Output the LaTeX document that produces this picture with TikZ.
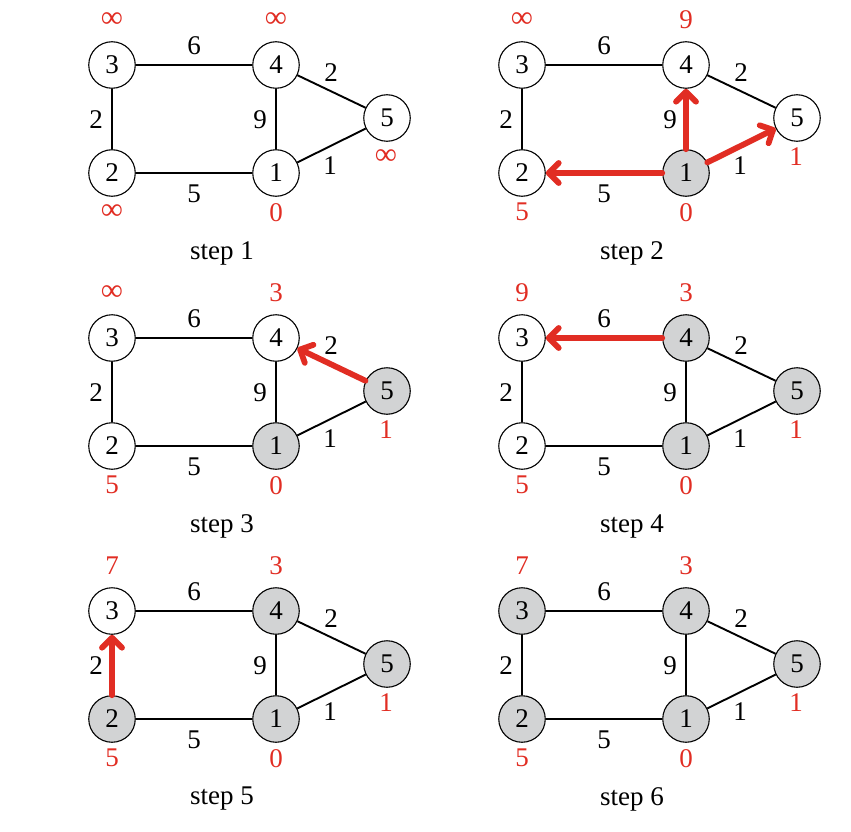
\documentclass[tikz,border=0pt]{standalone}
\usepackage{fontspec}
\setmainfont{Liberation Serif}
\usetikzlibrary{arrows.meta}
\definecolor{rd}{RGB}{225,45,35}
\definecolor{ng}{RGB}{210,211,212}
\newcommand\inft{{\fontsize{31}{31}\selectfont ∞}}
\tikzset{
  vtx/.style={circle, draw=black, line width=1.1pt, minimum size=46.5pt, inner sep=0pt, fill=white, font=\fontsize{27}{27}\selectfont},
  vtxg/.style={vtx, fill=ng},
  f1/.style={vtx}, f2/.style={vtx}, f3/.style={vtx}, f4/.style={vtx}, f5/.style={vtx},
  edge/.style={line width=1.9pt},
  redarr/.style={draw=rd, line width=5.8pt, line cap=round, -{Straight Barb[round,length=10pt,width=20pt]}},
  wlab/.style={font=\fontsize{27}{27}\selectfont, inner sep=0pt},
  dlab/.style={wlab, text=rd},
}
\newcommand\drawpanel[9]{%
  \node[f3] (n3) at (112,65) {3};
  \node[f4] (n4) at (276,65) {4};
  \node[f5] (n5) at (387,118) {5};
  \node[f2] (n2) at (112,173) {2};
  \node[f1] (n1) at (276,173) {1};
  \foreach \a/\b in {#8} {\draw[edge] (n\a) -- (n\b);}
  \foreach \a/\b in {#9} {\draw[redarr] (n\a) -- (n\b);}
  \node[wlab] (w34) at (194,46) {6};
  \node[wlab] (w32) at (96,120) {2};
  \node[wlab] (w41) at (260,120) {9};
  \node[wlab] (w45) at (331,73) {2};
  \node[wlab] (w15) at (330,166) {1};
  \node[wlab] (w21) at (194,194) {5};
  \node[dlab] (d3) at (112,20) {#2};
  \node[dlab] (d4) at (276,20) {#3};
  \node[dlab] (d5) at (386,157) {#4};
  \node[dlab] (d2) at (112,212) {#5};
  \node[dlab] (d1) at (276,213) {#6};
  \node[wlab] (st) at (222,253) {step #1};
}
\begin{document}
\begin{tikzpicture}[x=1pt,y=-1pt]
\useasboundingbox (0,0) rectangle (851,832);
\begin{scope}[name prefix=pa-]
  \drawpanel{1}{\inft}{\inft}{\inft}{\inft}{0}{}{3/4,3/2,2/1,4/1,4/5,1/5}{}
\end{scope}
\begin{scope}[shift={(410,0)}, name prefix=pb-, f1/.style={vtxg}]
  \drawpanel{2}{\inft}{9}{1}{5}{0}{}{3/4,3/2,4/5}{1/4,1/5,1/2}
\end{scope}
\begin{scope}[shift={(0,273)}, name prefix=pc-, f1/.style={vtxg}, f5/.style={vtxg}]
  \drawpanel{3}{\inft}{3}{1}{5}{0}{}{3/4,3/2,2/1,4/1,1/5}{5/4}
\end{scope}
\begin{scope}[shift={(410,273)}, name prefix=pd-, f1/.style={vtxg}, f5/.style={vtxg}, f4/.style={vtxg}]
  \drawpanel{4}{9}{3}{1}{5}{0}{}{3/2,2/1,4/1,4/5,1/5}{4/3}
\end{scope}
\begin{scope}[shift={(0,546)}, name prefix=pe-, f1/.style={vtxg}, f5/.style={vtxg}, f4/.style={vtxg}, f2/.style={vtxg}]
  \drawpanel{5}{7}{3}{1}{5}{0}{}{3/4,2/1,4/1,4/5,1/5}{2/3}
\end{scope}
\begin{scope}[shift={(410,546)}, name prefix=pf-, f1/.style={vtxg}, f5/.style={vtxg}, f4/.style={vtxg}, f2/.style={vtxg}, f3/.style={vtxg}]
  \drawpanel{6}{7}{3}{1}{5}{0}{}{3/4,3/2,2/1,4/1,4/5,1/5}{}
\end{scope}
\end{tikzpicture}
\end{document}
